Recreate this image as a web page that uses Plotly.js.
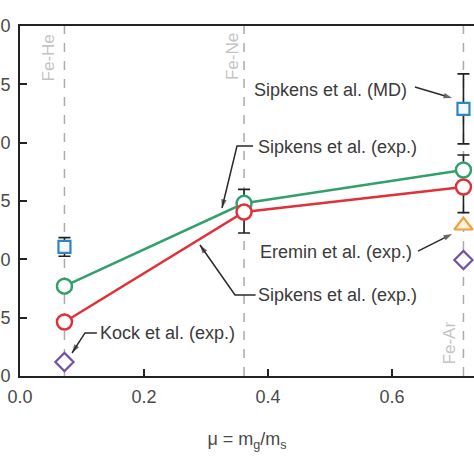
<!DOCTYPE html>
<html>
<head>
<meta charset="utf-8">
<script src="https://cdn.plot.ly/plotly-3.0.1.min.js"></script>
<style>html,body{margin:0;padding:0;background:#fff;}#chart{width:474px;height:474px;}</style>
</head>
<body>
<div id="chart"></div>
<script>
// mass ratio mu = m_g / m_s for Fe with He, Ne, Ar
const gasLabels = ["Fe-He", "Fe-Ne", "Fe-Ar"];
const gasMu = [0.0717, 0.3614, 0.7153];

// Sipkens et al. (exp.) - upper series (green)
const sipExpA = [0.077, 0.148, 0.1766];
const sipExpAErrPlus = [0, 0.012, 0.0128];
// Sipkens et al. (exp.) - lower series (red)
const sipExpB = [0.0463, 0.1406, 0.162];
const sipExpBErrMinus = [0, 0.018, 0.022];

// Sipkens et al. (MD) - blue squares
const mdMu = [0.0717, 0.7153];
const mdVal = [0.1106, 0.229];
const mdErr = [0.008, 0.030];

// Eremin et al. (exp.) - orange triangle
const ereMu = [0.7153];
const ereVal = [0.129];

// Kock et al. (exp.) - purple diamonds
const kockMu = [0.0717, 0.7153];
const kockVal = [0.012, 0.0994];

const yTicks = [0, 0.05, 0.10, 0.15, 0.20, 0.25, 0.30];
const xTicks = [0, 0.2, 0.4, 0.6];

const FONT = "Liberation Sans, Arial, sans-serif";
const TXT = "#3a3a3a";
const ARR = "#2a2a2a";
const GREEN = "#33a06c", RED = "#e0303a", BLUE = "#2e86c1", ORANGE = "#f0a03c", PURPLE = "#7352aa";

const ebar = {color: "#222", thickness: 1.6, width: 6};

const traces = [
  {x: gasMu, y: sipExpA, mode: "lines+markers", type: "scatter", name: "Sipkens et al. (exp.) A",
   line: {color: GREEN, width: 2.5},
   marker: {symbol: "circle", size: 15, color: "#fff", line: {color: GREEN, width: 2.5}},
   error_y: Object.assign({type: "data", symmetric: false, array: sipExpAErrPlus, arrayminus: [0,0,0]}, ebar)},
  {x: gasMu, y: sipExpB, mode: "lines+markers", type: "scatter", name: "Sipkens et al. (exp.) B",
   line: {color: RED, width: 2.5},
   marker: {symbol: "circle", size: 15, color: "#fff", line: {color: RED, width: 2.5}},
   error_y: Object.assign({type: "data", symmetric: false, array: [0,0,0], arrayminus: sipExpBErrMinus}, ebar)},
  {x: mdMu, y: mdVal, mode: "markers", type: "scatter", name: "Sipkens et al. (MD)",
   marker: {symbol: "square", size: 12, color: "#f2f8fc", line: {color: BLUE, width: 2.2}},
   error_y: Object.assign({type: "data", array: mdErr}, ebar)},
  {x: ereMu, y: ereVal, mode: "markers", type: "scatter", name: "Eremin et al. (exp.)",
   marker: {symbol: "triangle-up", size: 16, color: "#fdf0dc", line: {color: ORANGE, width: 2.2}}},
  {x: kockMu, y: kockVal, mode: "markers", type: "scatter", name: "Kock et al. (exp.)",
   marker: {symbol: "diamond", size: 14, color: "#fff", line: {color: PURPLE, width: 2.2}}}
];

// leader lines with arrowheads (label callouts): polyline points, last point = arrow tip
const leaderPaths = [
  {x: [0.637, 0.697], y: [0.2477, 0.2383]},                 // Sipkens (MD)
  {x: [0.376, 0.350, 0.3258], y: [0.1971, 0.1971, 0.144]},   // Sipkens (exp.) upper
  {x: [0.380, 0.3468, 0.2903], y: [0.0694, 0.0694, 0.1123]}, // Sipkens (exp.) lower
  {x: [0.642, 0.697], y: [0.1071, 0.1217]},                 // Eremin
  {x: [0.124, 0.1048, 0.0839], y: [0.0369, 0.0369, 0.0197]}  // Kock
];
leaderPaths.forEach(p => {
  const n = p.x.length;
  traces.push({x: p.x, y: p.y, type: "scatter", mode: "lines+markers", hoverinfo: "skip",
    line: {color: ARR, width: 1.5},
    marker: {symbol: "arrow", angleref: "previous", color: ARR,
             size: p.x.map((_, i) => i === n - 1 ? 9 : 0), line: {width: 0}}});
});

const shapes = gasMu.map(m => ({type: "line", xref: "x", yref: "paper", x0: m, x1: m, y0: 0, y1: 1,
  line: {color: "#ababab", width: 1.5, dash: "dash"}, layer: "below"}));

const labelFont = {family: FONT, size: 18, color: TXT};
const gasFont = {family: FONT, size: 17, color: "#c4c4c4"};
const annotations = [
  // gas-pair labels
  {x: gasMu[0], y: 0.2726, text: gasLabels[0], textangle: -90, xshift: -15, showarrow: false, font: gasFont},
  {x: gasMu[1], y: 0.2734, text: gasLabels[1], textangle: -90, xshift: -12, showarrow: false, font: gasFont},
  {x: gasMu[2], y: 0.0283, text: gasLabels[2], textangle: -90, xshift: -13, showarrow: false, font: gasFont},
  // text labels
  {x: 0.374, y: 0.2451, text: "Sipkens et al. (MD)", xanchor: "left", showarrow: false, font: labelFont},
  {x: 0.380, y: 0.1963, text: "Sipkens et al. (exp.)", xanchor: "left", showarrow: false, font: labelFont},
  {x: 0.384, y: 0.1063, text: "Eremin et al. (exp.)", xanchor: "left", showarrow: false, font: labelFont},
  {x: 0.380, y: 0.0694, text: "Sipkens et al. (exp.)", xanchor: "left", showarrow: false, font: labelFont},
  {x: 0.125, y: 0.0369, text: "Kock et al. (exp.)", xanchor: "left", showarrow: false, font: labelFont}
];

const layout = {
  width: 474, height: 474,
  margin: {l: 20, r: 0, t: 26, b: 98, pad: 0},
  paper_bgcolor: "#fff", plot_bgcolor: "#fff",
  showlegend: false,
  font: {family: FONT, size: 18, color: "#4a4a4a"},
  xaxis: {
    range: [0, 0.7323], tickvals: xTicks, tickformat: ".1f",
    ticks: "inside", ticklen: 7, tickwidth: 2, tickcolor: "#222",
    showline: true, linewidth: 2, linecolor: "#222", mirror: true,
    showgrid: false, zeroline: false, automargin: false,
    ticklabelstandoff: 3,
    tickfont: {family: FONT, size: 18, color: "#4a4a4a"},
    title: {text: "μ = m<sub>g</sub>/m<sub>s</sub>", font: {family: FONT, size: 18, color: "#4a4a4a"}, standoff: 27}
  },
  yaxis: {
    range: [0, 0.30], tickvals: yTicks, tickformat: ".2f",
    ticks: "inside", ticklen: 7, tickwidth: 2, tickcolor: "#222",
    showline: true, linewidth: 2, linecolor: "#222", mirror: false,
    showgrid: false, zeroline: false, automargin: false,
    ticklabelstandoff: 4,
    tickfont: {family: FONT, size: 18, color: "#4a4a4a"}
  },
  shapes: shapes,
  annotations: annotations
};

Plotly.newPlot("chart", traces, layout, {displayModeBar: false, staticPlot: true});
</script>
</body>
</html>
